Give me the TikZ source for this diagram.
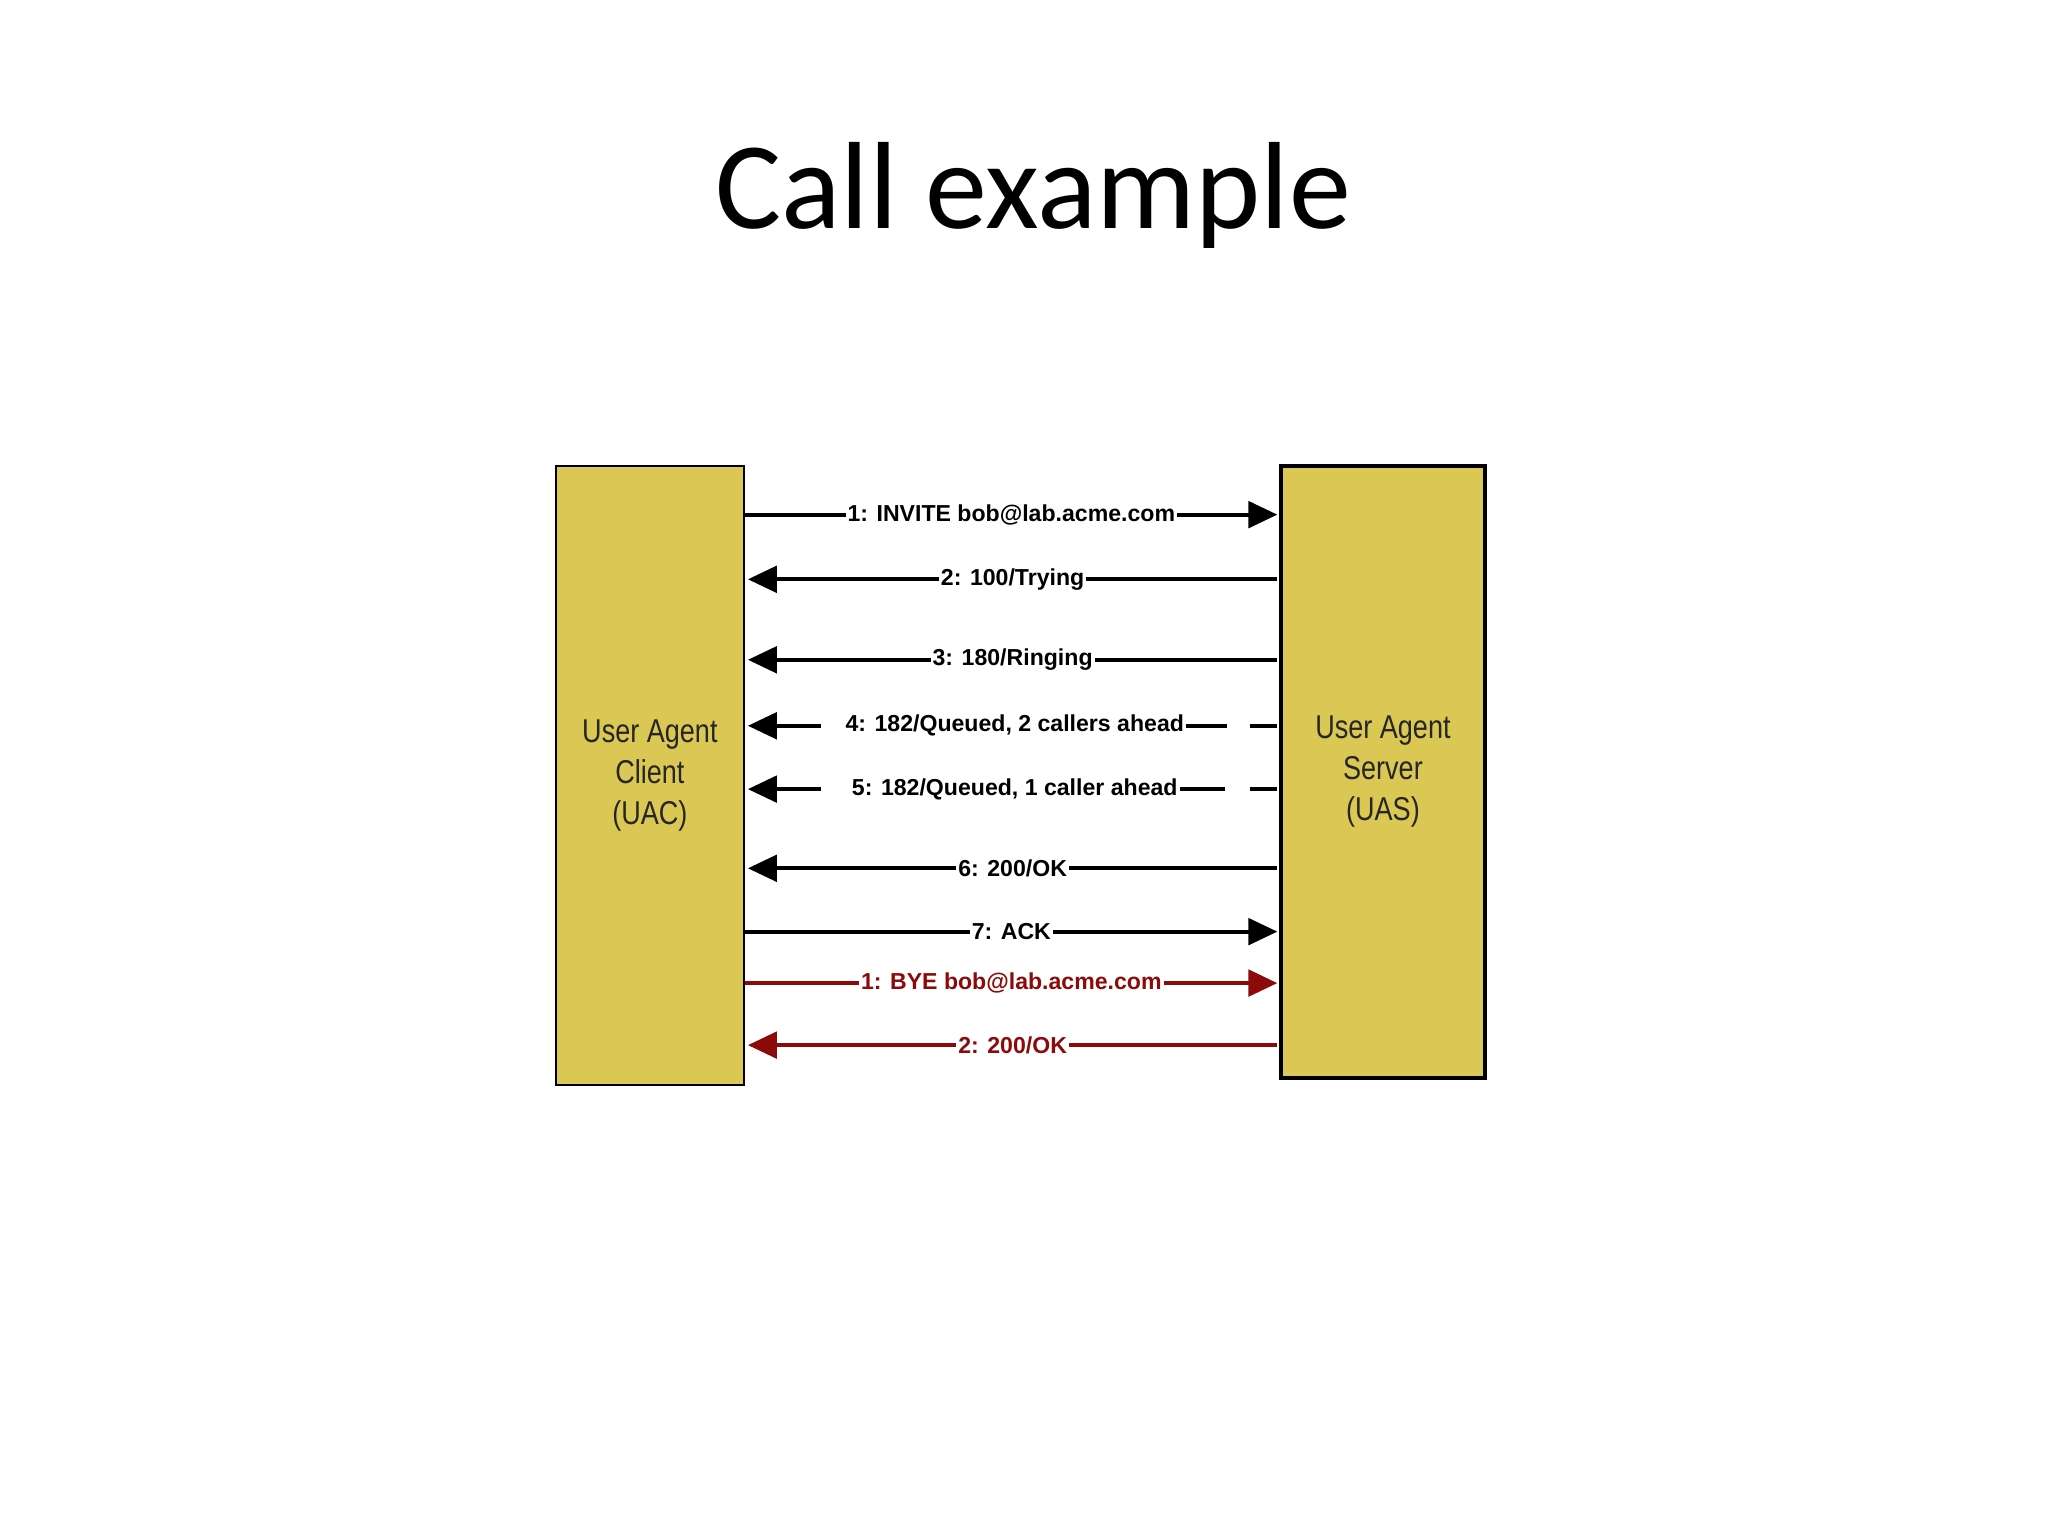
\documentclass[tikz,border=0pt]{standalone}
\usepackage{fontspec}
\setmainfont{Liberation Sans}
\newfontfamily\titlefont{Carlito}
\newfontfamily\narrowfont[FakeStretch=0.82]{Liberation Sans}
\usetikzlibrary{arrows.meta}
\definecolor{boxfill}{RGB}{219,200,84}
\definecolor{byered}{RGB}{140,10,10}
\begin{document}
\begin{tikzpicture}[x=1pt,y=-1pt,
  agent/.style={draw=black,fill=boxfill,line width=2pt,minimum width=143pt,inner sep=0pt,font=\narrowfont\fontsize{25}{31}\selectfont,align=center,text=black!85},
  msg/.style={line width=3.2pt,-{Triangle[length=22pt,width=20pt]}},
  lbl/.style={fill=white,inner sep=1.5pt,font=\bfseries\fontsize{17.5}{19}\selectfont}]
\useasboundingbox (0,0) rectangle (1552,1164);
\node[font=\titlefont\fontsize{94}{110}\selectfont] (title) at (783,148) {Call example};
\node[agent,minimum height=469pt,line width=1.5pt] (uac) at (492.5,587.5) {User Agent\\Client\\(UAC)};
\node[agent,minimum height=464pt,minimum width=154pt,line width=3pt] (uas) at (1048,585) {User Agent\\Server\\(UAS)};
% solid messages
\foreach \y/\t/\d/\c in {390/{1: INVITE bob@lab.acme.com}/r/black,439/{2: 100/Trying}/l/black,500/{3: 180/Ringing}/l/black,658/{6: 200/OK}/l/black,706/{7: ACK}/r/black,745/{1: BYE bob@lab.acme.com}/r/byered,792/{2: 200/OK}/l/byered}{
  \coordinate (a\y) at (uac.east |- 0,\y);
  \coordinate (b\y) at ([xshift=-1.5pt]uas.west |- 0,\y);
  \if\d r
    \draw[msg,draw=\c,fill=\c] (a\y) -- node[lbl,text=\c] {\t} (b\y);
  \else
    \draw[msg,draw=\c,fill=\c] (b\y) -- node[lbl,text=\c] {\t} ([xshift=2pt]a\y);
  \fi
}
% dashed messages
\foreach \y/\t/\e in {550/{4: 182/Queued, 2 callers ahead}/930,598/{5: 182/Queued, 1 caller ahead}/928}{
  \coordinate (a\y) at ([xshift=2pt]uac.east |- 0,\y);
  \coordinate (b\y) at ([xshift=-1.5pt]uas.west |- 0,\y);
  \coordinate (m\y) at (622,\y);
  \draw[msg] (m\y) -- (a\y);
  \node[lbl,fill=none] (t\y) at (769,\y) {\t};
  \coordinate (e\y) at (\e,\y);
  \coordinate (f\y) at (947,\y);
  \draw[line width=3.2pt] (t\y.east) -- (e\y);
  \draw[line width=3.2pt] (f\y) -- (b\y);
}
\end{tikzpicture}
\end{document}
